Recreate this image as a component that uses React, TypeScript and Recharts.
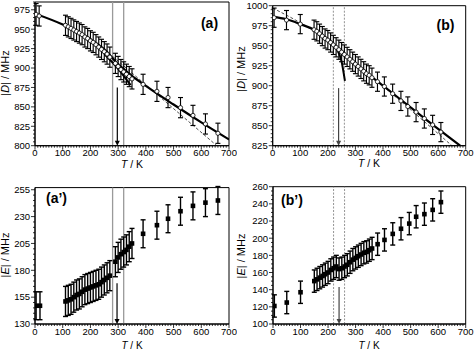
import React from 'react';
import {
  ComposedChart,
  Scatter,
  ErrorBar,
  Line,
  XAxis,
  YAxis,
  ReferenceLine,
  ReferenceArea,
} from 'recharts';

const FONT = '"Liberation Sans", Arial, Helvetica, sans-serif';

// ---------- Panel (a): |D| vs T ----------
const aT = [4, 15, 110, 120, 130, 140, 150, 160, 170, 180, 190, 200, 210, 220, 230, 240, 250, 260, 270, 290, 300, 310, 320, 330, 340, 350, 390, 440, 480, 525, 570, 615, 660];
const aD = [969, 967, 955, 953, 951, 949, 947, 945, 943, 940, 938, 935, 933, 930, 927, 924, 921, 918, 914, 906, 902, 898, 895, 892, 889, 886, 879, 870, 862, 849, 839, 828, 816];
const aErr = [14, 13, 13, 13, 13, 13, 13, 13, 13, 13, 13, 13, 13, 13, 13, 13, 13, 13, 13, 13, 13, 13, 13, 13, 13, 13, 13, 13, 13, 13, 13, 13, 13];
const aFitT = [0, 100, 200, 250, 300, 350, 400, 500, 600, 700];
const aFitD = [970, 956, 937, 924, 905, 890, 877, 853, 830, 808];
const aBranchT = [250, 290, 320, 345];
const aBranchD = [918, 903, 890, 878];
const aThinT = [280, 656];
const aThinD = [915, 800];

// ---------- Panel (b): |D| vs T ----------
const bT = [5, 50, 100, 150, 160, 170, 180, 190, 200, 210, 220, 230, 240, 250, 260, 270, 280, 290, 300, 310, 320, 330, 340, 350, 360, 380, 405, 435, 465, 490, 520, 550, 580, 610];
const bD = [985, 982, 977, 970, 968, 965, 962, 959, 957, 954, 951, 948, 945, 942, 939, 936, 933, 930, 927, 924, 921, 918, 915, 913, 910, 905, 899, 890, 881, 874, 867, 859, 851, 842];
const bErr = [12, 12, 12, 12, 12, 12, 12, 12, 12, 12, 12, 12, 12, 12, 12, 12, 12, 12, 12, 12, 12, 12, 12, 12, 12, 12, 12, 12, 12, 12, 12, 12, 12, 12];
const bFitT = [0, 50, 100, 150, 200, 250, 300, 400, 500, 600, 680];
const bFitD = [986, 983, 977, 970, 958, 943, 927, 900, 873, 846, 825];
const bBranchT = [200, 230, 250, 262];
const bBranchD = [957, 947, 930, 906];
const bThinT = [0, 150, 300, 500, 650];
const bThinD = [997, 968, 928, 870, 825];

// ---------- Panel (a'): |E| vs T ----------
const apT = [4, 18, 110, 120, 130, 140, 150, 160, 170, 180, 190, 200, 210, 220, 230, 240, 250, 260, 270, 290, 300, 310, 320, 330, 340, 350, 390, 440, 480, 525, 570, 615, 660];
const apE = [147, 147, 151, 152, 153, 155, 157, 158, 160, 162, 163, 164, 165, 166, 167, 169, 171, 173, 175, 188, 192, 195, 197, 199, 202, 205, 214, 222, 228, 235, 240, 243, 245];
const apErr = [13, 13, 14, 14, 14, 14, 14, 14, 14, 14, 14, 14, 14, 14, 14, 14, 14, 14, 14, 14, 14, 14, 14, 14, 14, 14, 13, 13, 13, 13, 13, 13, 13];

// ---------- Panel (b'): |E| vs T ----------
const bpT = [5, 50, 100, 150, 160, 170, 180, 190, 200, 210, 220, 230, 240, 250, 260, 270, 280, 290, 300, 310, 320, 330, 340, 350, 360, 380, 405, 435, 465, 495, 520, 550, 580, 610];
const bpE = [121, 125, 137, 150, 152, 154, 156, 158, 160, 163, 165, 167, 164, 165, 167, 169, 172, 175, 177, 179, 181, 183, 184, 186, 188, 193, 198, 205, 211, 217, 225, 228, 233, 242];
const bpErr = [13, 13, 13, 13, 13, 13, 13, 13, 13, 13, 13, 13, 13, 13, 13, 13, 13, 13, 13, 13, 13, 13, 13, 13, 13, 13, 13, 13, 13, 13, 13, 13, 13, 13];

// ---------- Axis ticks ----------
const xMajorTicks = [0, 100, 200, 300, 400, 500, 600, 700];
const xTicks = Array.from({ length: 71 }, (_, i) => i * 10);
const yTicksFrom = (lo: number, hi: number, step: number) => {
  const out: number[] = [];
  for (let v = lo; v <= hi + 1e-9; v += step) out.push(v);
  return out;
};

const pts = (xs: number[], ys: number[], es: number[]) => xs.map((x, i) => ({ x, y: ys[i], err: es[i] }));
const line = (xs: number[], ys: number[]) => xs.map((x, i) => ({ x, y: ys[i] }));

const XTick = (props: any) => {
  const { x, y, payload } = props;
  const v = payload.value;
  const major = xMajorTicks.includes(v);
  return (
    <g>
      <line x1={x} y1={y} x2={x} y2={y + (major ? 4 : 2)} stroke="#000" strokeWidth={0.8} />
      {major && (
        <text x={x} y={y + 10.5} textAnchor="middle" fontSize={9.5} fontFamily={FONT} fill="#000">
          {v}
        </text>
      )}
    </g>
  );
};

const makeYTick = (base: number, major: number) => (props: any) => {
  const { x, y, payload } = props;
  const v = payload.value;
  const isMajor = Math.abs((v - base) % major) < 1e-9;
  return (
    <g>
      <line x1={x - (isMajor ? 4 : 2)} y1={y} x2={x} y2={y} stroke="#000" strokeWidth={0.8} />
      {isMajor && (
        <text x={x - 5} y={y} dy="0.35em" textAnchor="end" fontSize={9.5} fontFamily={FONT} fill="#000">
          {v}
        </text>
      )}
    </g>
  );
};

const circleShape = (p: any) => (
  <circle cx={p.cx} cy={p.cy} r={2.1} fill="#fff" stroke="#000" strokeWidth={0.8} />
);
const squareShape = (p: any) => (
  <rect x={p.cx - 2.3} y={p.cy - 2.3} width={4.6} height={4.6} fill="#000" />
);

const arrowShape = (color: string) => (p: any) => {
  const { x1, y1, x2, y2 } = p;
  return (
    <g>
      <line x1={x1} y1={y1} x2={x2} y2={y2 - 4} stroke={color} strokeWidth={1.2} />
      <polygon points={`${x2 - 2.5},${y2 - 5} ${x2 + 2.5},${y2 - 5} ${x2},${y2}`} fill={color} />
    </g>
  );
};

type FitLine = { data: { x: number; y: number }[]; width: number; dash?: string };

type PanelProps = {
  left: number;
  top: number;
  width: number;
  height: number;
  margin: { top: number; right: number; bottom: number; left: number };
  yAxisWidth: number;
  xAxisHeight: number;
  yDomain: [number, number];
  yBase: number;
  yMajor: number;
  points: { x: number; y: number; err: number }[];
  square?: boolean;
  errWidth: number;
  fits: FitLine[];
  vlines: number[];
  vStroke: string;
  vWidth: number;
  vDash?: string;
  arrow: { x: number; y1: number; y2: number; color: string };
};

function Panel(p: PanelProps) {
  const yTicks = yTicksFrom(p.yDomain[0], p.yDomain[1], 5);
  return (
    <div style={{ position: 'absolute', left: p.left, top: p.top }}>
      <ComposedChart width={p.width} height={p.height} margin={p.margin} style={{ fontFamily: FONT }}>
        <XAxis
          type="number"
          dataKey="x"
          domain={[0, 700]}
          ticks={xTicks}
          interval={0}
          allowDataOverflow
          tickLine={false}
          tickSize={0}
          tickMargin={0}
          tick={<XTick />}
          height={p.xAxisHeight}
          axisLine={{ stroke: '#000', strokeWidth: 1 }}
        />
        <YAxis
          type="number"
          dataKey="y"
          domain={p.yDomain}
          ticks={yTicks}
          interval={0}
          allowDataOverflow
          tickLine={false}
          tickSize={0}
          tickMargin={0}
          tick={makeYTick(p.yBase, p.yMajor)}
          width={p.yAxisWidth}
          axisLine={{ stroke: '#000', strokeWidth: 1 }}
        />
        <ReferenceArea
          x1={0}
          x2={700}
          y1={p.yDomain[0]}
          y2={p.yDomain[1]}
          fill="#fff"
          fillOpacity={0}
          stroke="#000"
          strokeWidth={1}
          ifOverflow="visible"
        />
        {p.vlines.map((v) => (
          <ReferenceLine
            key={v}
            x={v}
            stroke={p.vStroke}
            strokeWidth={p.vWidth}
            strokeDasharray={p.vDash}
          />
        ))}
        <ReferenceLine
          segment={[
            { x: p.arrow.x, y: p.arrow.y1 },
            { x: p.arrow.x, y: p.arrow.y2 },
          ]}
          shape={arrowShape(p.arrow.color)}
          ifOverflow="visible"
        />
        <Scatter
          data={p.points}
          dataKey="y"
          shape={p.square ? squareShape : circleShape}
          isAnimationActive={false}
        >
          <ErrorBar
            dataKey="err"
            direction="y"
            width={p.errWidth}
            stroke="#000"
            strokeWidth={p.square ? 1.4 : 1.15}
            isAnimationActive={false}
          />
        </Scatter>
        {p.fits.map((f, i) => (
          <Line
            key={i}
            data={f.data}
            dataKey="y"
            type="monotone"
            stroke="#000"
            strokeWidth={f.width}
            strokeDasharray={f.dash}
            dot={false}
            activeDot={false}
            isAnimationActive={false}
          />
        ))}
      </ComposedChart>
    </div>
  );
}

export default function App() {
  return (
    <div
      style={{
        position: 'absolute',
        left: 0,
        top: 0,
        width: 474,
        height: 351,
        background: '#fff',
        overflow: 'hidden',
      }}
    >
      <Panel
        left={0}
        top={0}
        width={237}
        height={175}
        margin={{ top: 2, right: 8, bottom: 0, left: 0 }}
        yAxisWidth={35}
        xAxisHeight={29.3}
        yDomain={[800, 985]}
        yBase={800}
        yMajor={25}
        points={pts(aT, aD, aErr)}
        errWidth={2.5}
        fits={[
          { data: line(aFitT, aFitD), width: 2.2 },
          { data: line(aBranchT, aBranchD), width: 2 },
          { data: line(aThinT, aThinD), width: 0.7, dash: '3 2' },
        ]}
        vlines={[280, 320]}
        vStroke="#9a9a9a"
        vWidth={1.3}
        arrow={{ x: 297, y1: 875, y2: 800, color: '#000' }}
      />
      <Panel
        left={237}
        top={0}
        width={237}
        height={175}
        margin={{ top: 5.7, right: 8.3, bottom: 0, left: 0 }}
        yAxisWidth={35.7}
        xAxisHeight={29.3}
        yDomain={[825, 1000]}
        yBase={825}
        yMajor={25}
        points={pts(bT, bD, bErr)}
        errWidth={2.5}
        fits={[
          { data: line(bFitT, bFitD), width: 2.2 },
          { data: line(bBranchT, bBranchD), width: 2 },
          { data: line(bThinT, bThinD), width: 0.7, dash: '3 2' },
        ]}
        vlines={[220, 260]}
        vStroke="#777"
        vWidth={0.8}
        vDash="2 1.5"
        arrow={{ x: 239, y1: 897, y2: 825, color: '#444' }}
      />
      <Panel
        left={0}
        top={175}
        width={237}
        height={176}
        margin={{ top: 12.6, right: 8, bottom: 0, left: 0 }}
        yAxisWidth={35}
        xAxisHeight={27}
        yDomain={[130, 257]}
        yBase={130}
        yMajor={25}
        points={pts(apT, apE, apErr)}
        square
        errWidth={2.5}
        fits={[]}
        vlines={[280, 320]}
        vStroke="#9a9a9a"
        vWidth={1.3}
        arrow={{ x: 296, y1: 168, y2: 130, color: '#000' }}
      />
      <Panel
        left={237}
        top={175}
        width={237}
        height={176}
        margin={{ top: 11.7, right: 8.3, bottom: 0, left: 0 }}
        yAxisWidth={36}
        xAxisHeight={27}
        yDomain={[100, 260]}
        yBase={100}
        yMajor={20}
        points={pts(bpT, bpE, bpErr)}
        square
        errWidth={2.5}
        fits={[]}
        vlines={[220, 260]}
        vStroke="#777"
        vWidth={0.8}
        vDash="2 1.5"
        arrow={{ x: 240, y1: 143, y2: 100, color: '#444' }}
      />
      <svg
        width={474}
        height={351}
        style={{ position: 'absolute', left: 0, top: 0, pointerEvents: 'none' }}
        fontFamily={FONT}
      >
        {/* y axis titles */}
        <text transform="translate(5.5,73) rotate(-90)" textAnchor="middle" dy="0.35em" fontSize={11} fill="#000">
          |<tspan fontStyle="italic">D</tspan>| / MHz
        </text>
        <text transform="translate(241,69) rotate(-90)" textAnchor="middle" dy="0.35em" fontSize={11} fill="#000">
          |<tspan fontStyle="italic">D</tspan>| / MHz
        </text>
        <text transform="translate(5,255) rotate(-90)" textAnchor="middle" dy="0.35em" fontSize={11} fill="#000">
          |<tspan fontStyle="italic">E</tspan>| / MHz
        </text>
        <text transform="translate(241.5,256) rotate(-90)" textAnchor="middle" dy="0.35em" fontSize={11} fill="#000">
          |<tspan fontStyle="italic">E</tspan>| / MHz
        </text>
        {/* x axis titles */}
        <text x={132} y={164} dy="0.35em" textAnchor="middle" fontSize={10.5} fill="#000">
          <tspan fontStyle="italic">T</tspan> / K
        </text>
        <text x={369} y={163} dy="0.35em" textAnchor="middle" fontSize={10.5} fill="#000">
          <tspan fontStyle="italic">T</tspan> / K
        </text>
        <text x={132} y={345} dy="0.35em" textAnchor="middle" fontSize={10} fill="#000">
          <tspan fontStyle="italic">T</tspan> / K
        </text>
        <text x={369} y={345} dy="0.35em" textAnchor="middle" fontSize={10} fill="#000">
          <tspan fontStyle="italic">T</tspan> / K
        </text>
        {/* panel letters */}
        <text x={209.5} y={23} dy="0.35em" textAnchor="middle" fontSize={14} fontWeight="bold" fill="#000">
          (a)
        </text>
        <text x={445.5} y={25} dy="0.35em" textAnchor="middle" fontSize={14} fontWeight="bold" fill="#000">
          (b)
        </text>
        <text x={56.5} y={198.5} dy="0.35em" textAnchor="middle" fontSize={14} fontWeight="bold" fill="#000">
          (a’)
        </text>
        <text x={292} y={200.5} dy="0.35em" textAnchor="middle" fontSize={14} fontWeight="bold" fill="#000">
          (b’)
        </text>
      </svg>
    </div>
  );
}
